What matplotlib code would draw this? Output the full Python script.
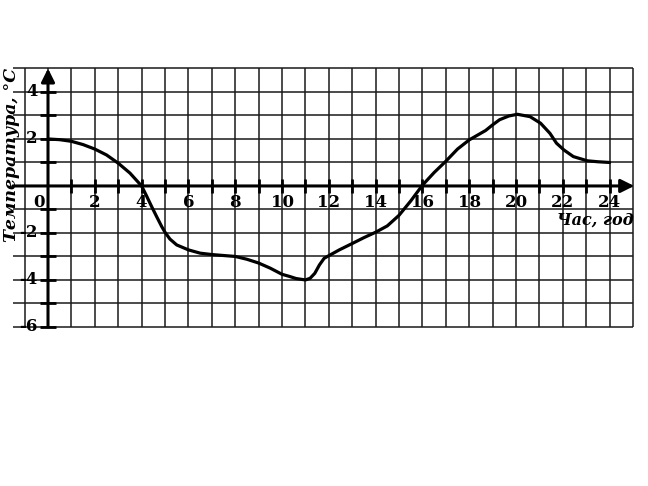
import matplotlib
matplotlib.use("Agg")
import matplotlib.pyplot as plt

# Температура протягом доби
hours = [0, 0.5, 1, 1.5, 2, 2.5, 3, 3.5, 4, 4.2, 4.43, 4.64, 4.86, 5, 5.21,
         5.5, 6, 6.5, 7, 7.5, 8, 8.5, 9, 9.5, 10, 10.32, 10.6, 11, 11.2, 11.4,
         11.6, 11.8, 12.05, 12.45, 13, 13.5, 14, 14.5, 15, 15.5, 16, 16.5, 17,
         17.5, 18, 18.7, 19, 19.3, 19.7, 20.06, 20.6, 21.05, 21.45, 21.73,
         22.05, 22.45, 23.05, 23.5, 24]
temps = [2.0, 1.97, 1.9, 1.76, 1.57, 1.32, 0.97, 0.55, 0.0, -0.4, -0.88, -1.3,
         -1.73, -1.97, -2.26, -2.51, -2.72, -2.86, -2.92, -2.96, -3.0, -3.12,
         -3.28, -3.5, -3.76, -3.85, -3.94, -4.0, -3.93, -3.72, -3.36, -3.08,
         -2.94, -2.72, -2.45, -2.2, -1.97, -1.7, -1.25, -0.64, 0.03, 0.57,
         1.05, 1.57, 1.96, 2.36, 2.6, 2.82, 2.98, 3.05, 2.95, 2.67, 2.24, 1.82,
         1.53, 1.25, 1.07, 1.03, 1.0]

x_ticks = list(range(2, 25, 2))
y_ticks = [4, 2, -2, -4, -6]
grid_x = list(range(-1, 26))
grid_y = list(range(-6, 6))

fig = plt.figure(figsize=(6.48, 4.86), dpi=100)
ax = fig.add_axes([0.0163, 0.3128, 0.9714, 0.5608])
ax.set_xlim(-1.6, 25.3)
ax.set_ylim(-6.3, 5.3)
ax.axis('off')

# сітка
ax.hlines(grid_y, -1.5, 25, color='#1a1a1a', lw=1.1)
ax.vlines(grid_x, -6, 5, color='#1a1a1a', lw=1.1)

# осі зі стрілками
ax.annotate('', xy=(25.05, 0), xytext=(-1.5, 0),
            arrowprops=dict(arrowstyle='-|>', lw=2.2, color='black',
                            mutation_scale=20, shrinkA=0, shrinkB=0))
ax.annotate('', xy=(0, 5.0), xytext=(0, -6),
            arrowprops=dict(arrowstyle='-|>', lw=2.2, color='black',
                            mutation_scale=20, shrinkA=0, shrinkB=0))

# поділки
ax.plot(range(1, 25), [0] * 24, ls='none', marker='|', ms=10, mew=2, color='black')
ax.plot([0] * 10, list(range(-6, 0)) + list(range(1, 5)), ls='none', marker='_',
        ms=11, mew=2, color='black')

tick_font = dict(family='DejaVu Serif', weight='bold', size=12)
for t in x_ticks:
    ax.text(t, -0.72, str(t), ha='center', va='center', **tick_font)
for t in y_ticks:
    ax.text(-0.45, t, str(t), ha='right', va='center', **tick_font)
ax.text(-0.38, -0.7, '0', ha='center', va='center', **tick_font)

# крива температури
ax.plot(hours, temps, color='black', lw=2.3, solid_capstyle='round',
        solid_joinstyle='round')

ax.text(-1.56, 1.3, 'Температура, °С', rotation=90, ha='center', va='center',
        family='DejaVu Serif', weight='bold', style='italic', size=12.5)
ax.text(25.05, -1.45, 'Час, год', ha='right', va='center',
        family='DejaVu Serif', weight='bold', style='italic', size=11.5)

fig.savefig('out.png', dpi=100, facecolor='white')
